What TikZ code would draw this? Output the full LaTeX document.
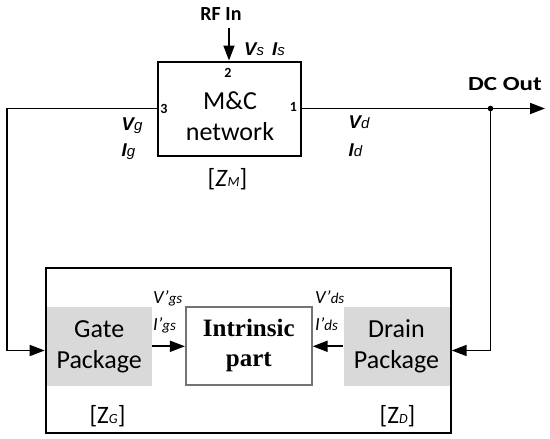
\documentclass[tikz,border=0pt]{standalone}
\usepackage{fontspec}
\setmainfont{Carlito}
\newfontfamily\serifbf{Liberation Serif}
\newfontfamily\arialf{Liberation Sans}
\usepackage{tikz}
\usetikzlibrary{
  arrows.meta,  % Tip "Triangle"
  positioning,
  calc
}
\newcommand{\sg}[2]{{\arialf\bfseries\itshape #1}{\arialf\itshape\fontsize{15}{15}\selectfont #2}}
\newcommand{\sgp}[2]{{\itshape #1}{\itshape\fontsize{15}{15}\selectfont #2}}
\newcommand{\zmat}[2]{[#1{\itshape\fontsize{14}{14}\selectfont #2}]}
\def\mywire{1.7pt}
\def\mybox{2pt}
\tikzset{
  font=\fontsize{19}{23}\selectfont,
  >={Triangle[length=15pt,width=11pt]},
  wire/.style={
    line width=\mywire
  },
  block/.style={
    draw,
    line width=\mybox,
    inner sep=0pt
  },
  pkg/.style={
    fill=black!15,
    inner sep=0pt,
    align=center,
    font=\fontsize{26}{31}\selectfont
  },
  core/.style={
    draw=black!55,
    line width=2pt,
    inner sep=0pt,
    align=center,
    font=\serifbf\bfseries\fontsize{25}{30}\selectfont
  },
  port/.style={
    inner sep=0pt,
    font=\bfseries\fontsize{14}{14}\selectfont
  },
  sig/.style={
    anchor=base west,
    inner sep=0pt,
    font=\fontsize{18.5}{20}\selectfont
  },
  heading/.style={
    anchor=base,
    inner sep=0pt,
    font=\bfseries\fontsize{20}{24}\selectfont
  },
  imp/.style={
    anchor=base,
    inner sep=0pt,
    font=\fontsize{25}{28}\selectfont
  }
}
\begin{document}
\begin{tikzpicture}[x=1pt,y=-1pt]
\useasboundingbox (0,0) rectangle (550,439);
% M&C network
\node[block,minimum width=143pt,minimum height=94pt] (mc) at (229,108.5) {};
\node[align=center,inner sep=0pt,font=\fontsize{26}{30.7}\selectfont] (mctext) at (230,116.5) {M\&C\\network};
\node[port] (p2) at (228,72.5) {2};
\node[port] (p3) at (164,109) {3};
\node[port] (p1) at (293.5,107) {1};
\node[heading] (rfin) at (221,20.7) {RF In};
\coordinate (rftop) at (229,28);
\node[sig] (vs) at (244,55) {\sg{V}{s}};
\node[sig] (is) at (272,55) {\sg{I}{s}};
\node[sig] (vg) at (121.5,130) {\sg{V}{g}};
\node[sig] (ig) at (121.5,156.5) {\sg{I}{g}};
\node[sig] (vd) at (348.5,128.5) {\sg{V}{d}};
\node[sig] (id) at (348.5,156.5) {\sg{I}{d}};
\node[imp] (zm) at (227.5,186) {[\textit{Z}{\itshape\fontsize{14}{14}\selectfont M}]};
\node[heading] (dcout) at (505,90) {\scalebox{1.25}[1]{DC Out}};
% transistor
\node[block,minimum width=405pt,minimum height=165pt] (outer) at (248.2,350.5) {};
\node[pkg,minimum width=105pt,minimum height=79.3pt] (gate) at (99.2,346.3) {Gate\\Package};
\node[pkg,minimum width=106pt,minimum height=79.3pt] (drain) at (396.5,346.3) {Drain\\Package};
\node[core,minimum width=125.7pt,minimum height=78.3pt] (intr) at (248.8,345.8) {Intrinsic\\part};
\node[sig] (vgs) at (153,303) {\sgp{V'}{gs}};
\node[sig] (igs) at (153,330) {\sgp{I'}{gs}};
\node[sig] (vds) at (315,303) {\sgp{V'}{ds}};
\node[sig] (ids) at (315,330) {\sgp{I'}{ds}};
\node[imp] (zg) at (107.5,423) {\zmat{Z}{G}};
\node[imp] (zd) at (397.5,423) {\zmat{Z}{D}};
% wires
\coordinate (gfeed) at (6.7,108.5);
\coordinate (tap) at (490.5,108.5);
\coordinate (dcend) at (545,108.5);
\draw[wire,->] (rftop) -- (mc.north);
\draw[wire,->] (mc.west) -- (gfeed) |- (outer.west);
\draw[wire,->] (mc.east) -- (dcend);
\draw[wire,->] (tap) |- (outer.east);
\fill (tap) circle (2.8);
\draw[wire,->] (gate.east) -- (gate.east -| intr.west);
\draw[wire,->] (drain.west) -- (drain.west -| intr.east);
\end{tikzpicture}
\end{document}
